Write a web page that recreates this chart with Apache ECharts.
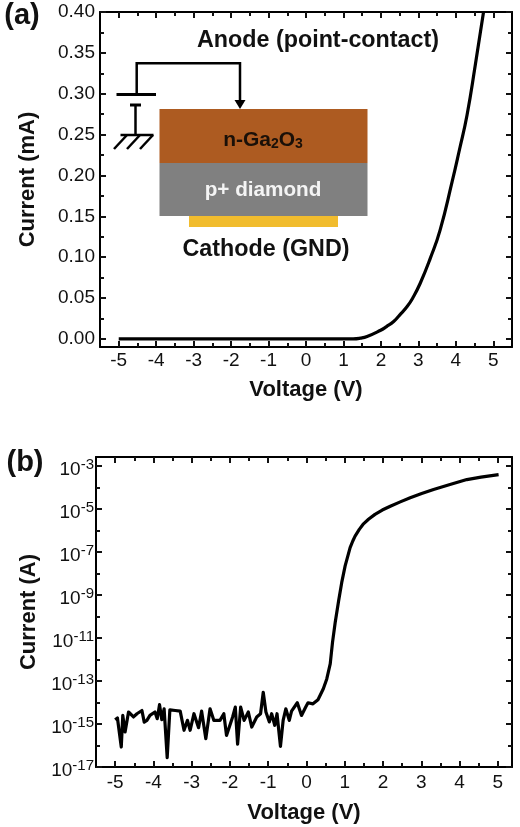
<!DOCTYPE html>
<html lang="en">
<head>
    <meta charset="UTF-8">
    <title>Current vs Voltage</title>
    <style>html,body{margin:0;padding:0;background:#fff}</style>
</head>
<body>
    <div id="main" style="width:520px;height:827px"></div>
</body>
<script src="https://cdn.jsdelivr.net/npm/echarts@6/dist/echarts.min.js"></script>
<script type="text/javascript">
    const FONT = '"Liberation Sans"';

    // panel (a), linear, current in mA
    const voltageA = [-5, 1.26, 1.45, 1.63, 1.98, 2.15, 2.34, 2.5, 2.7, 2.85, 3.05, 3.32, 3.58, 3.9, 4.1, 4.3, 4.52, 4.74];
    const currentA = [0, 0, 0.0008, 0.0028, 0.0102, 0.015, 0.0212, 0.029, 0.0395, 0.05, 0.068, 0.0987, 0.133, 0.192, 0.232, 0.274, 0.335, 0.40];

    // panel (b), read as the power of ten of the current in A
    const voltageB = [-5, -4.94, -4.84, -4.8, -4.74, -4.65, -4.52, -4.43, -4.3, -4.24, -4.17, -4.09, -3.96, -3.9, -3.84, -3.78, -3.72, -3.64, -3.57, -3.43, -3.3, -3.2, -3.11, -3.04, -2.94, -2.82, -2.74, -2.63, -2.52, -2.42, -2.26, -2.16, -2.09, -1.93, -1.86, -1.8, -1.72, -1.63, -1.52, -1.43, -1.3, -1.2, -1.13, -1.06, -0.97, -0.91, -0.83, -0.77, -0.68, -0.61, -0.54, -0.45, -0.39, -0.24, -0.13, -0.02, 0.04, 0.17, 0.3, 0.44, 0.53, 0.62, 0.68, 0.75, 0.84, 0.92, 1.01, 1.14, 1.21, 1.27, 1.38, 1.49, 1.62, 1.79, 1.98, 2.19, 2.45, 2.71, 3.01, 3.32, 3.75, 4.19, 4.56, 5.02];
    const exponentB = [-14.8, -14.72, -16.07, -14.6, -15.37, -14.44, -14.67, -14.52, -14.37, -14.91, -14.83, -14.6, -14.44, -14.75, -14.1, -14.8, -14.29, -16.56, -14.34, -14.37, -14.4, -15.29, -14.83, -15.29, -14.52, -15.17, -14.4, -15.68, -14.29, -14.83, -14.83, -14.52, -15.53, -14.67, -14.21, -15.94, -14.21, -14.83, -14.44, -15.14, -14.67, -14.52, -13.52, -14.44, -14.9, -14.52, -15.06, -14.52, -16.04, -14.83, -14.29, -14.83, -14.4, -14.01, -14.6, -14.21, -14.01, -14.06, -13.87, -13.36, -12.9, -12.2, -11.2, -10.27, -9.26, -8.42, -7.64, -6.79, -6.48, -6.25, -5.94, -5.68, -5.47, -5.24, -5.04, -4.86, -4.66, -4.47, -4.27, -4.08, -3.85, -3.62, -3.51, -3.39];

    // tick labels
    const voltageTicks = [-5, -4, -3, -2, -1, 0, 1, 2, 3, 4, 5];
    const voltageMinor = [-4.5, -3.5, -2.5, -1.5, -0.5, 0.5, 1.5, 2.5, 3.5, 4.5];
    const currentTicks = [0, 0.05, 0.10, 0.15, 0.20, 0.25, 0.30, 0.35, 0.40];
    const currentMinor = [0.025, 0.075, 0.125, 0.175, 0.225, 0.275, 0.325, 0.375];
    const powerTicks = [-17, -15, -13, -11, -9, -7, -5, -3];
    const powerMinor = [-16, -14, -12, -10, -8, -6, -4];

    const pow10 = e => Math.pow(10, e);

    // one side pair of an axis: major ticks with line (and labels on the main side), minor ticks, mirrored
    function makeAxes(base, side, mirror, majors, minors, label, name) {
        const common = Object.assign({ splitLine: { show: false } }, base);
        const line = () => ({ show: true, onZero: false, lineStyle: { color: '#000', width: 2 } });
        const noLine = () => ({ show: false, onZero: false });
        const tick = (vals, len) => ({ show: true, inside: true, length: len, customValues: vals, lineStyle: { color: '#111', width: 2 } });
        return [
            Object.assign({}, common, name, {
                position: side, axisLine: line(), axisTick: tick(majors, 6),
                axisLabel: Object.assign({ show: true, customValues: majors, fontFamily: FONT, fontSize: 19, color: '#111' }, label)
            }),
            Object.assign({}, common, { position: side, axisLine: noLine(), axisTick: tick(minors, 4), axisLabel: { show: false } }),
            Object.assign({}, common, { position: mirror, axisLine: line(), axisTick: tick(majors, 6), axisLabel: { show: false } }),
            Object.assign({}, common, { position: mirror, axisLine: noLine(), axisTick: tick(minors, 4), axisLabel: { show: false } })
        ];
    }

    const titleStyle = { fontFamily: FONT, fontSize: 22, fontWeight: 'bold', color: '#111' };
    const nameX = gap => ({ name: 'Voltage (V)', nameLocation: 'middle', nameGap: gap, nameTextStyle: titleStyle });
    const nameY = (text, gap) => ({ name: text, nameLocation: 'middle', nameGap: gap, nameTextStyle: titleStyle });

    const xA = makeAxes({ type: 'value', gridIndex: 0, min: -5.5, max: 5.5 }, 'bottom', 'top', voltageTicks, voltageMinor, { margin: 4 }, nameX(32));
    const yA = makeAxes({ type: 'value', gridIndex: 0, min: -0.01, max: 0.40 }, 'left', 'right', currentTicks, currentMinor,
        { margin: 5, formatter: v => v.toFixed(2) }, nameY('Current (mA)', 61));
    const xB = makeAxes({ type: 'value', gridIndex: 1, min: -5.5, max: 5.37 }, 'bottom', 'top', voltageTicks, voltageMinor, { margin: 6 }, nameX(35));
    const yB = makeAxes({ type: 'log', logBase: 10, gridIndex: 1, min: pow10(-17), max: pow10(-2.57) }, 'left', 'right', powerTicks.map(pow10), powerMinor.map(pow10),
        {
            margin: 2,
            padding: [8, 0, 0, 0],
            formatter: v => '{b|10}{s|' + Math.round(Math.log10(v)) + '}',
            rich: {
                b: { fontFamily: FONT, fontSize: 19, color: '#111' },
                s: { fontFamily: FONT, fontSize: 15, color: '#111', padding: [0, 0, 11, 0] }
            }
        }, nameY('Current (A)', 48));

    const wire = (points, w) => ({ type: 'polyline', shape: { points: points }, style: { stroke: '#000', lineWidth: w || 2.5, fill: null } });
    const rect = (x, y, w, h, color) => ({ type: 'rect', shape: { x: x, y: y, width: w, height: h }, style: { fill: color } });
    const text = (x, y, str, size, color) => ({
        type: 'text', x: x, y: y,
        style: { text: str, fontFamily: FONT, fontSize: size, fontWeight: 'bold', fill: color || '#111', align: 'center', verticalAlign: 'middle' }
    });

    const option = {
        animation: false,
        grid: [
            { left: 100, right: 8, top: 12, height: 335 },
            { left: 96, right: 8, top: 457, height: 310 }
        ],
        xAxis: xA.concat(xB),
        yAxis: yA.concat(yB),
        series: [
            {
                type: 'line', xAxisIndex: 0, yAxisIndex: 0, showSymbol: false, smooth: 0.5,
                lineStyle: { color: '#000', width: 3.2 },
                data: voltageA.map((v, i) => [v, currentA[i]])
            },
            {
                type: 'line', xAxisIndex: 4, yAxisIndex: 4, showSymbol: false,
                lineStyle: { color: '#000', width: 3.2, join: 'round' },
                data: voltageB.map((v, i) => [v, pow10(exponentB[i])])
            }
        ],
        graphic: [
            rect(159.5, 109, 208, 54, '#AD5B21'),
            rect(159.5, 163, 208, 53, '#808080'),
            rect(189, 216, 149, 11, '#F1BC2E'),
            text(318, 41, 'Anode (point-contact)', 23.3),
            text(266, 250, 'Cathode (GND)', 23.3),
            text(263, 190, 'p+ diamond', 20.7, '#f4f4f4'),
            {
                type: 'text', x: 263, y: 140,
                style: {
                    text: '{a|n-Ga}{s|2}{a|O}{s|3}', align: 'center', verticalAlign: 'middle',
                    rich: {
                        a: { fontFamily: FONT, fontSize: 21, fontWeight: 'bold', fill: '#1a1008' },
                        s: { fontFamily: FONT, fontSize: 14, fontWeight: 'bold', fill: '#1a1008', padding: [8, 0, 0, 0] }
                    }
                }
            },
            wire([[136.7, 95], [136.7, 63.3], [240, 63.3], [240, 101]]),
            { type: 'polygon', shape: { points: [[234.5, 100], [245.5, 100], [240, 109]] }, style: { fill: '#000' } },
            wire([[116.5, 94.5], [156, 94.5]], 3),
            wire([[130, 105], [141, 105]], 3),
            wire([[135.5, 105], [135.5, 135]]),
            wire([[120.5, 135], [153.5, 135]]),
            wire([[127, 135], [114, 149]]),
            wire([[140, 135], [127, 149]]),
            wire([[153, 135], [140, 149]]),
            text(22, 16, '(a)', 29),
            text(25, 463, '(b)', 29)
        ]
    };

    const myChart = echarts.init(document.getElementById('main'));
    myChart.setOption(option);
</script>
</html>
